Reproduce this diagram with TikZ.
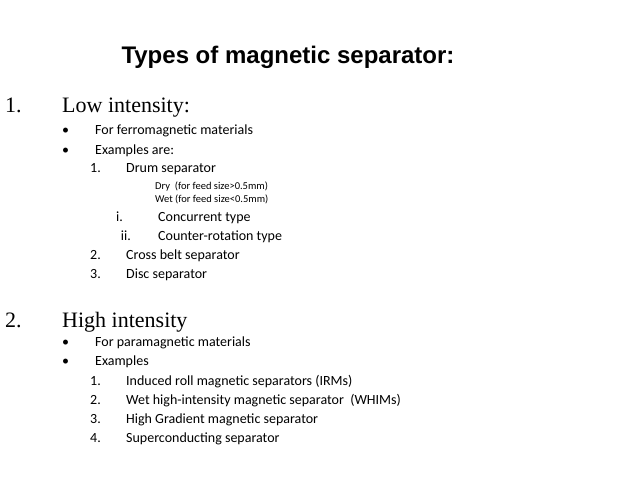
\documentclass[tikz,border=0pt]{standalone}
\usepackage{fontspec}
\setmainfont{Carlito}
\newfontfamily\titlefont{Liberation Sans}
\newfontfamily\serif{Liberation Serif}
\begin{document}
\begin{tikzpicture}[x=1pt,y=-1pt,
  t/.style={anchor=base west,inner sep=0pt,font=\fontsize{14}{16}\selectfont},
  s/.style={anchor=base west,inner sep=0pt,font=\fontsize{10.5}{12}\selectfont},
  h/.style={anchor=base west,inner sep=0pt,font=\serif\fontsize{22}{26}\selectfont},
  r/.style={anchor=base east,inner sep=0pt,font=\fontsize{14}{16}\selectfont}]
\useasboundingbox (0,0) rectangle (638,478);
\node[anchor=base,inner sep=0pt,font=\titlefont\bfseries\fontsize{24}{28}\selectfont] (title) at (288,64) {Types of magnetic separator:};
\node[h] (n1) at (5,113) {1.};
\node[h] (l1) at (62,113) {Low intensity:};
\node[t] (b1) at (62,135) {•}; \node[t] (b1t) at (95,135) {For ferromagnetic materials};
\node[t] (b2) at (62,155) {•}; \node[t] (b2t) at (95,155) {Examples are:};
\node[t] (a1) at (90,173) {1.}; \node[t] (a1t) at (126,173) {Drum separator};
\node[s] (d1) at (155,190) {Dry\ \ (for feed size>0.5mm)};
\node[s] (d2) at (155,203) {Wet (for feed size<0.5mm)};
\node[r] (i1) at (123,222) {i.}; \node[t] (i1t) at (158,222) {Concurrent type};
\node[r] (i2) at (131,241) {ii.}; \node[t] (i2t) at (158,241) {Counter-rotation type};
\node[t] (a2) at (90,260) {2.}; \node[t] (a2t) at (126,260) {Cross belt separator};
\node[t] (a3) at (90,279) {3.}; \node[t] (a3t) at (126,279) {Disc separator};
\node[h] (n2) at (5,328) {2.};
\node[h] (l2) at (62,328) {High intensity};
\node[t] (c1) at (62,347) {•}; \node[t] (c1t) at (95,347) {For paramagnetic materials};
\node[t] (c2) at (62,366) {•}; \node[t] (c2t) at (95,366) {Examples};
\node[t] (e1) at (90,386) {1.}; \node[t] (e1t) at (126,386) {Induced roll magnetic separators (IRMs)};
\node[t] (e2) at (90,405) {2.}; \node[t] (e2t) at (126,405) {Wet high-intensity magnetic separator\ \ (WHIMs)};
\node[t] (e3) at (90,424) {3.}; \node[t] (e3t) at (126,424) {High Gradient magnetic separator};
\node[t] (e4) at (90,443) {4.}; \node[t] (e4t) at (126,443) {Superconducting separator};
\end{tikzpicture}
\end{document}
